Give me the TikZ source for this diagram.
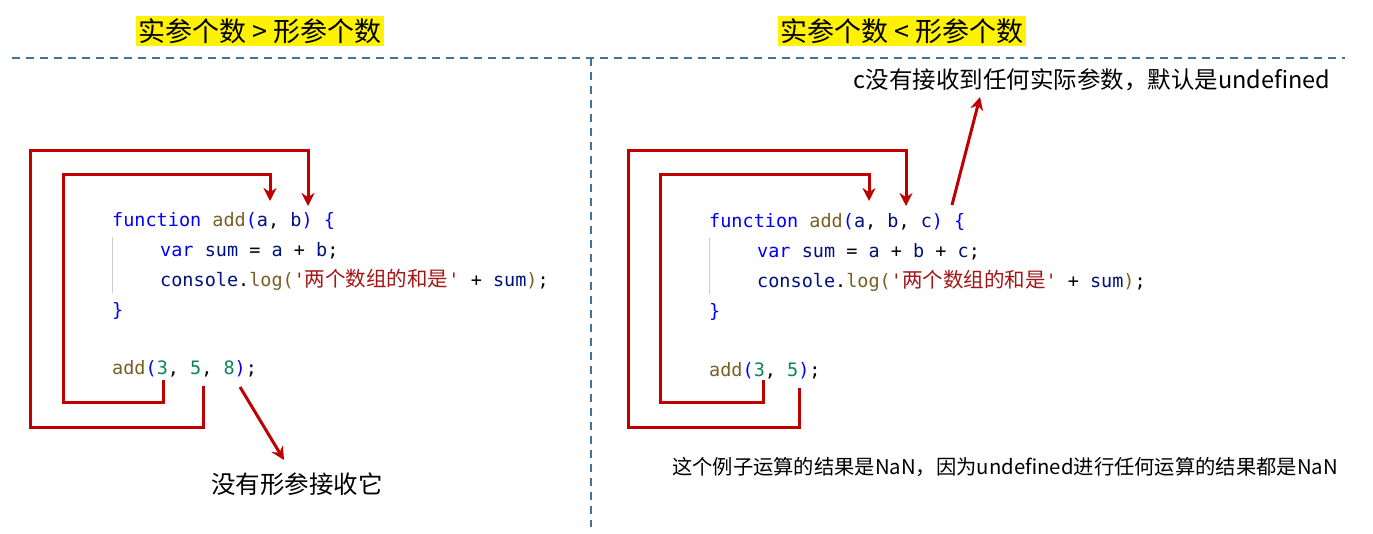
\documentclass[tikz,border=0pt]{standalone}
\usepackage{fontspec}
\usetikzlibrary{arrows.meta}
\setmainfont{Liberation Sans}
\setmonofont{DejaVu Sans Mono}
\newfontfamily\cjk{Noto Sans CJK SC}
\definecolor{kw}{HTML}{0000FF}
\definecolor{fn}{HTML}{795E26}
\definecolor{num}{HTML}{098658}
\definecolor{str}{HTML}{A31515}
\definecolor{vr}{HTML}{001080}
\definecolor{ar}{HTML}{C00000}
\definecolor{sep}{HTML}{41719C}
\newcommand{\K}[1]{\textcolor{kw}{#1}}
\newcommand{\F}[1]{\textcolor{fn}{#1}}
\newcommand{\N}[1]{\textcolor{num}{#1}}
\newcommand{\V}[1]{\textcolor{vr}{#1}}
\newcommand{\Str}[1]{\textcolor{str}{#1}}
\newcommand{\CC}[1]{{\fontsize{20.5}{20}\cjk #1}}
\begin{document}
\begin{tikzpicture}[x=1pt,y=-1pt,
  code/.style={anchor=west,inner sep=0pt,font=\fontsize{18.5}{20}\ttfamily},
  title/.style={fill=yellow,inner sep=2pt,font=\fontsize{27}{30}\cjk},
  note/.style={inner sep=0pt,font=\fontsize{23.5}{26}\cjk},
  bracket/.style={draw=ar,line width=3pt,-{Stealth[length=13pt,width=13pt]}},
  sepline/.style={draw=sep,line width=1.8pt,dash pattern=on 8pt off 6pt}]
\useasboundingbox (0,0) rectangle (1373,533);
\node[title] (t1) at (260,31) {实参个数 > 形参个数};
\node[title] (t2) at (902,31) {实参个数 < 形参个数};
\coordinate (h1) at (12,58); \coordinate (h2) at (1345,58);
\coordinate (v1) at (591,58); \coordinate (v2) at (591,527);
\draw[sepline] (h1) -- (h2);
\draw[sepline] (v1) -- (v2);
% left code
\draw[gray!40,line width=1pt] (112,237) -- (112,293);
\node[code] (l1) at (112,221) {\K{function} \F{add}\K{(}\V{a}, \V{b}\K{)} \K{\{}};
\node[code] (l2) at (160,251) {\K{var} \V{sum} = \V{a} + \V{b};};
\node[code] (l3) at (160,280) {\V{console}.\F{log}\F{(}\Str{'\CC{两个数组的和是}'} + \V{sum}\F{)};};
\node[code] (l4) at (112,311) {\K{\}}};
\node[code] (l5) at (112,369) {\F{add}\K{(}\N{3}, \N{5}, \N{8}\K{)};};
% right code
\draw[gray!40,line width=1pt] (709,238) -- (709,294);
\node[code] (r1) at (709,222) {\K{function} \F{add}\K{(}\V{a}, \V{b}, \V{c}\K{)} \K{\{}};
\node[code] (r2) at (757,252) {\K{var} \V{sum} = \V{a} + \V{b} + \V{c};};
\node[code] (r3) at (757,281) {\V{console}.\F{log}\F{(}\Str{'\CC{两个数组的和是}'} + \V{sum}\F{)};};
\node[code] (r4) at (709,312) {\K{\}}};
\node[code] (r5) at (709,371) {\F{add}\K{(}\N{3}, \N{5}\K{)};};
% left brackets
\coordinate (lo) at (203,386); \coordinate (lob) at (308,206);
\coordinate (li) at (163,380); \coordinate (lib) at (270,201);
\draw[bracket] (lo) -- (203,427) -- (30,427) -- (30,150) -- (308,150) -- (lob);
\draw[bracket] (li) -- (163,402) -- (63,402) -- (63,174) -- (270,174) -- (lib);
\node[note,font=\fontsize{24.5}{26}\cjk] (n1) at (297,484) {没有形参接收它};
\coordinate (la) at (240,387); \coordinate (lb) at (284,460);
\draw[bracket] (la) -- (lb);
% right brackets
\coordinate (ro) at (799,388); \coordinate (rob) at (906,206);
\coordinate (ri) at (763,380); \coordinate (rib) at (869,201);
\draw[bracket] (ro) -- (799,427) -- (628,427) -- (628,150) -- (906,150) -- (rob);
\draw[bracket] (ri) -- (763,402) -- (660,402) -- (660,174) -- (869,174) -- (rib);
\node[note] (n2) at (1092,80) {c没有接收到任何实际参数，默认是undefined};
\coordinate (ra) at (952,205); \coordinate (rb) at (980,97);
\draw[bracket] (ra) -- (rb);
\node[note,font=\fontsize{20.3}{22}\cjk] (n3) at (1005,467) {这个例子运算的结果是NaN，因为undefined进行任何运算的结果都是NaN};
\end{tikzpicture}
\end{document}
